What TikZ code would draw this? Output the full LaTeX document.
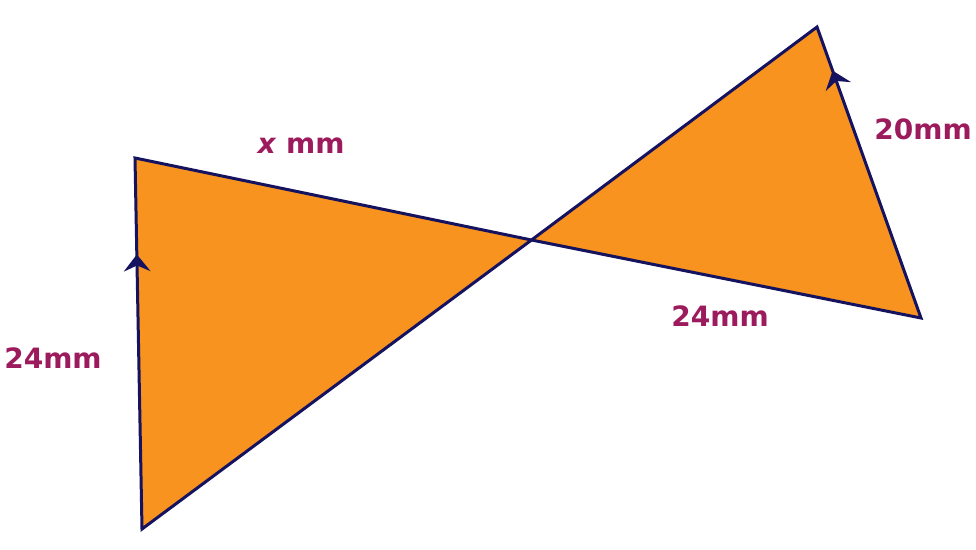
\documentclass[tikz,border=0pt]{standalone}
\usepackage{fontspec}
\setmainfont{DejaVu Sans}
\usetikzlibrary{arrows.meta,decorations.markings}
\definecolor{fillor}{HTML}{F7931E}
\definecolor{edge}{HTML}{15125F}
\definecolor{lbl}{HTML}{9B1B5C}
\tikzset{
  tri/.style={fill=fillor,draw=edge,line width=3pt,line join=miter},
  lab/.style={text=lbl,font=\fontsize{28}{32}\selectfont\bfseries,inner sep=0pt},
  tickmark/.style={postaction={decorate},decoration={markings,mark=at position #1 with {\arrow{Stealth[length=17pt,width=27pt,inset=6pt,line width=0pt]}}}}
}
\begin{document}
\begin{tikzpicture}[x=1pt,y=-1pt,color=edge]
\useasboundingbox (0,0) rectangle (976,549);
\coordinate (A) at (135,158);
\coordinate (B) at (142,529);
\coordinate (C) at (531.5,240);
\coordinate (D) at (817,27);
\coordinate (E) at (921,318);
\draw[tri] (A) -- (C) -- (B) -- cycle;
\draw[tri] (C) -- (D) -- (E) -- cycle;
\path[tickmark=0.74] (B) -- (A);
\path[tickmark=0.85] (E) -- (D);
\node[lab] (lx) at (301,146) {\textit{x} mm};
\node[lab] (l20) at (923,129) {20mm};
\node[lab] (l24a) at (53,358) {24mm};
\node[lab] (l24b) at (720,316) {24mm};
\end{tikzpicture}
\end{document}
